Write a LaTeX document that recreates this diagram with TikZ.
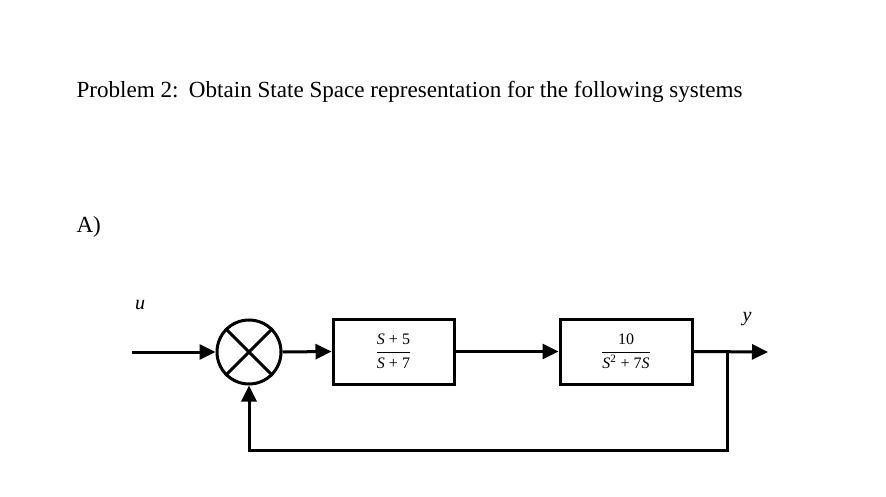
\documentclass[tikz,border=0pt]{standalone}
\usepackage{fontspec}
\setmainfont{Liberation Serif}
\usetikzlibrary{arrows.meta}

\begin{document}
\begin{tikzpicture}[
  x=1pt, y=-1pt,
  line width=3pt,
  block/.style={draw,rectangle,minimum width=121pt,minimum height=65pt,inner sep=0pt,font=\fontsize{16}{18}\selectfont},
  sumnode/.style={draw,circle,minimum size=64pt,inner sep=0pt},
  sig/.style={-{Triangle[length=16pt,width=15pt]}},
  lbl/.style={inner sep=0pt,font=\fontsize{20}{22}\selectfont\itshape}
]
  \useasboundingbox (0,0) rectangle (886,497);
  \node[anchor=base west,inner sep=0pt,font=\fontsize{23.1}{26}\selectfont] (title) at (75,98)
    {Problem 2:\hspace{0.45em}Obtain State Space representation for the following systems};
  \node[anchor=base west,inner sep=0pt,font=\fontsize{23.1}{26}\selectfont] (part) at (75,233) {A)};
  \node[lbl,anchor=base] (ulbl) at (140,309) {u};
  \node[lbl,anchor=base] (ylbl) at (747,321) {y};
  \coordinate (uin) at (132,352);
  \node[sumnode] (sum) at (249,352) {};
  \draw (sum.north west) -- (sum.south east);
  \draw (sum.north east) -- (sum.south west);
  \node[block] (g1) at (393.5,351.5)
    {$\displaystyle\frac{\mbox{\textit{S} + 5}}{\mbox{\textit{S} + 7}}$};
  \node[block,minimum width=132pt] (g2) at (626,351.5)
    {$\displaystyle\frac{\mbox{10}}{\mbox{\textit{S}\textsuperscript{2} + 7\textit{S}}}$};
  \coordinate (yout) at (768,352);
  \coordinate (branch) at (727,352);
  \coordinate (fbr) at (727,450);
  \coordinate (fbl) at (249,450);
  \draw[sig] (uin) -- (sum.west);
  \draw[sig] (sum.east) -- (g1.west);
  \draw[sig] (g1.east) -- (g2.west);
  \draw[sig] (g2.east) -- (yout);
  \draw[sig] (branch) -- (fbr) -- (fbl) -- (sum.south);
\end{tikzpicture}
\end{document}
